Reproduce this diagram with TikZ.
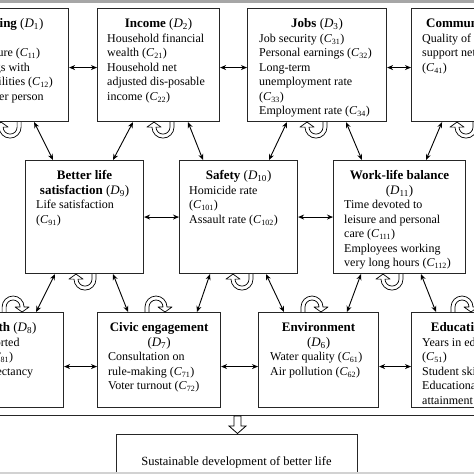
\documentclass[tikz,border=0pt]{standalone}
\usepackage{fontspec}
\setmainfont{Liberation Serif}
\usetikzlibrary{arrows.meta,calc}
\setlength{\parindent}{0pt}
\newcommand{\Dsub}[1]{(\textit{D}\textsubscript{#1})}
\newcommand{\Csub}[1]{(\textit{C}\textsubscript{#1})}
\begin{document}
\begin{tikzpicture}[x=1pt,y=-1pt,
  box/.style={draw=black!85, line width=1.1pt, anchor=north west, inner sep=0pt},
  hd/.style={anchor=north, inner sep=0pt, align=center, font=\fontsize{13}{14.5}\selectfont},
  bd/.style={anchor=north west, inner sep=0pt, align=left, font=\fontsize{12}{14.5}\selectfont},
  dbl/.style={line width=0.9pt, {Stealth[length=6pt,width=5pt]}-{Stealth[length=6pt,width=5pt]}},
  loopy/.pic={\draw[line width=0.7pt, line join=round] (11,0) -- (11,5) arc[start angle=0,end angle=180,radius=11] -- (-16,5) -- (-9,0) -- (-2,5) -- (-7,5) arc[start angle=180,end angle=0,radius=7] -- (7,0);}
]
\useasboundingbox (0,0) rectangle (474,474);
\clip (0,0) rectangle (474,474);

% boxes
\node[box, minimum width=123, minimum height=113] (D1) at (-55,8) {};
\node[box, minimum width=122, minimum height=113] (D2) at (97,8) {};
\node[box, minimum width=139, minimum height=113] (D3) at (247,8) {};
\node[box, minimum width=122, minimum height=113] (D4) at (411,8) {};
\node[box, minimum width=118, minimum height=113] (D9) at (25,160) {};
\node[box, minimum width=118, minimum height=113] (D10) at (179,160) {};
\node[box, minimum width=132, minimum height=113] (D11) at (333,160) {};
\node[box, minimum width=118, minimum height=95] (D8) at (-55,312) {};
\node[box, minimum width=123, minimum height=95] (D7) at (97,312) {};
\node[box, minimum width=120, minimum height=95] (D6) at (258,312) {};
\node[box, minimum width=122, minimum height=95] (D5) at (411,312) {};

% headers
\node[hd] (H1) at ([yshift=-9.5pt]D1.north) {\strut\textbf{Housing} \Dsub{1}};
\node[hd] (H2) at ([yshift=-9.5pt]D2.north) {\strut\textbf{Income} \Dsub{2}};
\node[hd] (H3) at ([yshift=-9.5pt]D3.north) {\strut\textbf{Jobs} \Dsub{3}};
\node[hd] (H4) at ([yshift=-9.5pt]D4.north) {\strut\textbf{Community} \Dsub{4}};
\node[hd] (H9) at ([yshift=-9.5pt]D9.north) {\strut\textbf{Better life}\\\textbf{satisfaction} \Dsub{9}};
\node[hd] (H10) at ([yshift=-9.5pt]D10.north) {\strut\textbf{Safety} \Dsub{10}};
\node[hd] (H11) at ([yshift=-9.5pt]D11.north) {\strut\textbf{Work-life balance}\\\Dsub{11}};
\node[hd] (H8) at ([yshift=-9.5pt]D8.north) {\strut\textbf{Health} \Dsub{8}};
\node[hd] (H7) at ([yshift=-9.5pt]D7.north) {\strut\textbf{Civic engagement}\\\Dsub{7}};
\node[hd] (H6) at ([yshift=-9.5pt]D6.north) {\strut\textbf{Environment}\\\Dsub{6}};
\node[hd] (H5) at ([yshift=-9.5pt]D5.north) {\strut\textbf{Education} \Dsub{5}};

% bodies
\node[bd] (B1) at ([xshift=11pt,yshift=-24pt]D1.north west) {\strut Housing\\expenditure \Csub{11}\\Dwellings with\\basic facilities \Csub{12}\\Rooms per person\\\Csub{13}};
\node[bd] (B2) at ([xshift=10pt,yshift=-24pt]D2.north west) {\strut Household financial\\wealth \Csub{21}\\Household net\\adjusted dis-posable\\income \Csub{22}};
\node[bd] (B3) at ([xshift=12pt,yshift=-24pt]D3.north west) {\strut Job security \Csub{31}\\Personal earnings \Csub{32}\\Long-term\\unemployment rate\\\Csub{33}\\Employment rate \Csub{34}};
\node[bd] (B4) at ([xshift=11pt,yshift=-24pt]D4.north west) {\strut Quality of\\support network\\\Csub{41}};
\node[bd] (B9) at ([xshift=11pt,yshift=-38.5pt]D9.north west) {\strut Life satisfaction\\\Csub{91}};
\node[bd] (B10) at ([xshift=10pt,yshift=-24pt]D10.north west) {\strut Homicide rate\\\Csub{101}\\Assault rate \Csub{102}};
\node[bd] (B11) at ([xshift=11pt,yshift=-38.5pt]D11.north west) {\strut Time devoted to\\leisure and personal\\care \Csub{111}\\Employees working\\very long hours \Csub{112}};
\node[bd] (B8) at ([xshift=11pt,yshift=-24pt]D8.north west) {\strut Self-reported\\health \Csub{81}\\Life expectancy\\\Csub{82}};
\node[bd] (B7) at ([xshift=11pt,yshift=-38.5pt]D7.north west) {\strut Consultation on\\rule-making \Csub{71}\\Voter turnout \Csub{72}};
\node[bd] (B6) at ([xshift=12pt,yshift=-38.5pt]D6.north west) {\strut Water quality \Csub{61}\\Air pollution \Csub{62}};
\node[bd] (B5) at ([xshift=11pt,yshift=-24pt]D5.north west) {\strut Years in education\\\Csub{51}\\Student skills \Csub{52}\\Educational\\attainment \Csub{53}};

% horizontal arrows
\draw[dbl] ([yshift=-2.5pt]D1.east) -- ([yshift=-2.5pt]D2.west);
\draw[dbl] ([yshift=-2.5pt]D2.east) -- ([yshift=-2.5pt]D3.west);
\draw[dbl] ([yshift=-2.5pt]D3.east) -- ([yshift=-2.5pt]D4.west);
\draw[dbl] (D9.east) -- (D10.west);
\draw[dbl] (D10.east) -- (D11.west);
\draw[dbl] ([yshift=-6.5pt]D8.east) -- ([yshift=-6.5pt]D7.west);
\draw[dbl] ([yshift=-6.5pt]D7.east) -- ([yshift=-6.5pt]D6.west);
\draw[dbl] ([yshift=-6.5pt]D6.east) -- ([yshift=-6.5pt]D5.west);

% diagonal arrows top -> middle
\draw[dbl] ([xshift=-35pt]D1.south east) -- ([xshift=28pt]D9.north west);
\draw[dbl] ([xshift=36pt]D2.south west) -- ([xshift=88pt]D9.north west);
\draw[dbl] ([xshift=91pt]D2.south west) -- ([xshift=24pt]D10.north west);
\draw[dbl] ([xshift=40pt]D3.south west) -- ([xshift=90pt]D10.north west);
\draw[dbl] ([xshift=99pt]D3.south west) -- ([xshift=29pt]D11.north west);
\draw[dbl] ([xshift=31pt]D4.south west) -- ([xshift=93pt]D11.north west);
% middle -> bottom
\draw[dbl] ([xshift=30pt]D9.south west) -- ([xshift=-28pt]D8.north east);
\draw[dbl] ([xshift=88pt]D9.south west) -- ([xshift=31pt]D7.north west);
\draw[dbl] ([xshift=31pt]D10.south west) -- ([xshift=100pt]D7.north west);
\draw[dbl] ([xshift=87pt]D10.south west) -- ([xshift=26pt]D6.north west);
\draw[dbl] ([xshift=28pt]D11.south west) -- ([xshift=89pt]D6.north west);
\draw[dbl] ([xshift=88pt]D11.south west) -- ([xshift=25pt]D5.north west);

% self loops
\pic at ([xshift=-59pt]D1.south east) {loopy};
\pic at ([xshift=66pt]D2.south west) {loopy};
\pic at ([xshift=69pt]D3.south west) {loopy};
\pic at ([xshift=55pt]D4.south west) {loopy};
\pic at ([xshift=60pt]D9.south west) {loopy};
\pic at ([xshift=63pt]D10.south west) {loopy};
\pic at ([xshift=59pt]D11.south west) {loopy};
\pic[rotate=180] at ([xshift=-51pt]D8.north east) {loopy};
\pic[rotate=180] at ([xshift=59pt]D7.north west) {loopy};
\pic[rotate=180] at ([xshift=54pt]D6.north west) {loopy};
\pic[rotate=180] at ([xshift=51pt]D5.north west) {loopy};

% outer frame bottom line
\draw[line width=0.9pt, black!85] (-5,415) -- (479,415);

% hollow down arrow
\draw[line width=0.8pt, line join=miter] (234,416) -- (241,416) -- (241,426) -- (246,426) -- (237.5,433.5) -- (229,426) -- (234,426) -- cycle;

% final box
\node[box, minimum width=241, minimum height=50] (S) at (116,434) {};
\node[inner sep=0pt, font=\fontsize{12.5}{15}\selectfont] (St) at (236.5,462) {Sustainable development of better life};

% gray strips
\fill[gray!70] (0,0) rectangle (474,3);
\fill[gray!35] (0,471.5) rectangle (474,474);
\end{tikzpicture}
\end{document}
